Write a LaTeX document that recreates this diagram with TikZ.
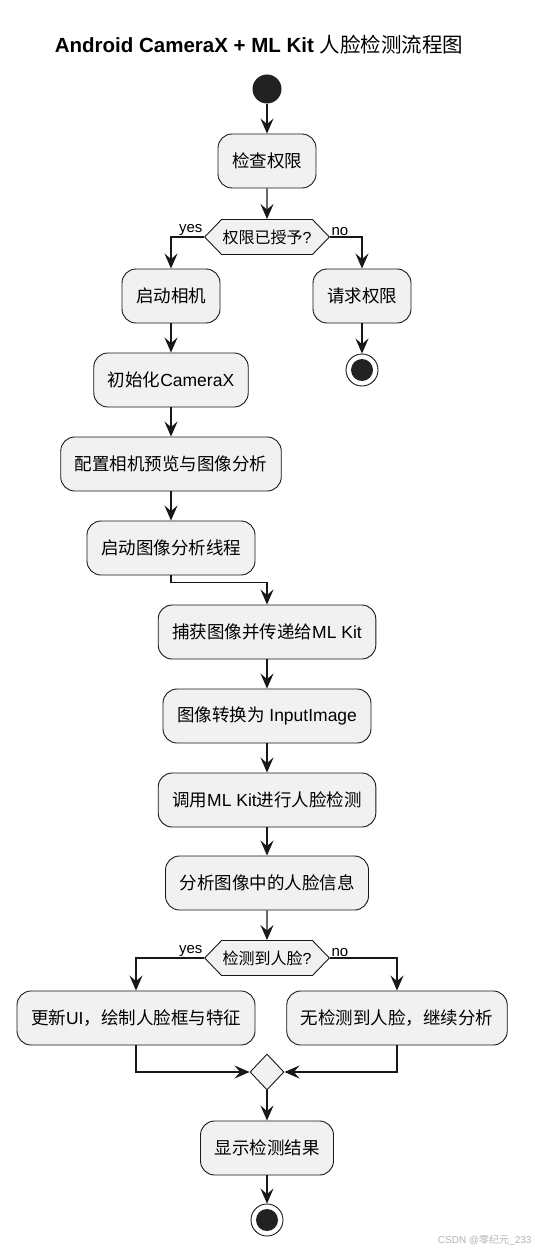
\documentclass[tikz,border=0pt]{standalone}
\usepackage{fontspec}
\setmainfont{Liberation Sans}
\newfontfamily\zhfont{Noto Sans CJK SC}
\newcommand{\zh}[1]{{\zhfont\mdseries #1}}
\usetikzlibrary{arrows.meta,shapes.geometric,shapes.symbols}

\definecolor{linec}{HTML}{181818}
\definecolor{boxfill}{HTML}{F1F1F1}
\definecolor{dotc}{HTML}{222222}

\begin{document}
\begin{tikzpicture}[x=1pt,y=1pt,yscale=-1,
  action/.style={draw=linec, fill=boxfill, rounded corners=14pt, line width=0.9pt, minimum height=54pt, inner xsep=14pt, font=\fontsize{17.5}{20}\selectfont},
  choice/.style={draw=linec, fill=boxfill, shape=signal, signal to=east and west, signal pointer angle=92, minimum height=35pt, inner xsep=1pt, inner ysep=0pt, line width=0.9pt, font=\fontsize{16}{18}\selectfont},
  merge/.style={draw=linec, fill=boxfill, diamond, minimum width=34pt, minimum height=36pt, inner sep=0pt, line width=0.9pt},
  startdot/.style={circle, fill=dotc, minimum size=29pt, inner sep=0pt},
  stopdot/.style={circle, draw=linec, fill=white, line width=0.9pt, minimum size=32pt, inner sep=0pt, path picture={\fill[dotc] (path picture bounding box.center) circle (11pt);}},
  flow/.style={draw=linec, line width=1.2pt, -{Stealth[length=15pt,width=13pt,inset=5.5pt]}},
  lbl/.style={font=\fontsize{15}{17}\selectfont, inner sep=1pt}
]
\useasboundingbox (0,0) rectangle (535,1252);

% Title
\node (title) at (259,45) {\fontsize{20.5}{24}\selectfont\bfseries Android CameraX + ML Kit \zh{人脸检测流程图}};

% Permission part
\node[startdot] (start) at (267,89) {};
\node[action] (chk) at (267,161) {\zh{检查权限}};
\node[choice] (dec1) at (267,237) {\zh{权限已授予}?};
\node[action] (cam) at (171,296) {\zh{启动相机}};
\node[action] (req) at (362,296) {\zh{请求权限}};
\node[stopdot] (end1) at (362,370) {};

% Camera setup
\node[action] (init) at (171,380) {\zh{初始化}CameraX};
\node[action] (cfg) at (171,464) {\zh{配置相机预览与图像分析}};
\node[action] (thr) at (171,548) {\zh{启动图像分析线程}};

% Detection
\node[action] (cap) at (267,632) {\zh{捕获图像并传递给}ML Kit};
\node[action] (conv) at (267,716) {\zh{图像转换为} InputImage};
\node[action] (call) at (267,800) {\zh{调用}ML Kit\zh{进行人脸检测}};
\node[action] (ana) at (267,883) {\zh{分析图像中的人脸信息}};
\node[choice] (dec2) at (267,958) {\zh{检测到人脸}?};
\node[action] (upd) at (136,1018) {\zh{更新}UI\zh{，绘制人脸框与特征}};
\node[action] (none) at (397,1018) {\zh{无检测到人脸，继续分析}};
\node[merge] (join) at (267,1072) {};
\node[action] (show) at (267,1148) {\zh{显示检测结果}};
\node[stopdot] (end2) at (267,1220) {};

% Watermark
\node[anchor=east, text=black!30, font=\fontsize{10}{12}\selectfont] (mark) at (535,1240) {CSDN @\zh{零纪元}\_233};

% Connectors
\draw[flow] (start) -- (chk);
\draw[flow] (chk) -- (dec1);
\draw[flow] (dec1.west) node[lbl, anchor=south east] {yes} -| (cam.north);
\draw[flow] (dec1.east) node[lbl, anchor=south west] {no} -| (req.north);
\draw[flow] (req) -- (end1);
\draw[flow] (cam) -- (init);
\draw[flow] (init) -- (cfg);
\draw[flow] (cfg) -- (thr);
\draw[flow] (thr.south) -- ++(0,7) -| (cap.north);
\draw[flow] (cap) -- (conv);
\draw[flow] (conv) -- (call);
\draw[flow] (call) -- (ana);
\draw[flow] (ana) -- (dec2);
\draw[flow] (dec2.west) node[lbl, anchor=south east] {yes} -| (upd.north);
\draw[flow] (dec2.east) node[lbl, anchor=south west] {no} -| (none.north);
\draw[flow] (upd.south) |- (join.west);
\draw[flow] (none.south) |- (join.east);
\draw[flow] (join) -- (show);
\draw[flow] (show) -- (end2);
\end{tikzpicture}
\end{document}
